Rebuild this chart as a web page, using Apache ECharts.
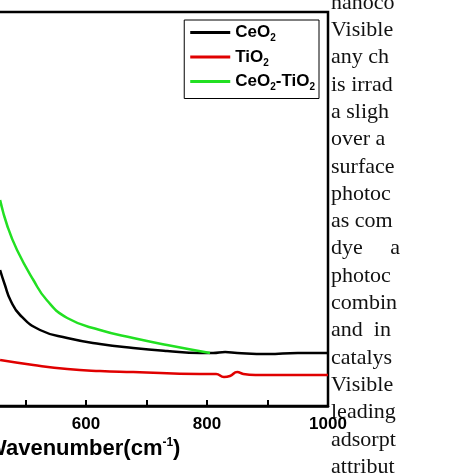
<!DOCTYPE html>
<html><head><meta charset="utf-8">
<script src="https://cdn.jsdelivr.net/npm/echarts@6/dist/echarts.min.js"></script>
<style>html,body{margin:0;padding:0;background:#fff}#c{width:474px;height:474px}</style>
</head><body><div id="c"></div>
<script>
const ceo2 = [[458,136],[466,121],[475,106],[491,91],[524,76],[569,68],[623,62],[678,58],[734,55],[788,53],[810,53],[830,54],[850,53],[900,52],[950,53],[1000,53]];
const tio2 = [[458,46],[513,41],[569,37],[623,35],[678,34],[788,32],[815,32],[828,29],[838,30],[850,34],[860,32],[880,31],[920,31],[1000,31]];
const ceo2tio2 = [[458,206],[470,180],[486,156],[513,126],[535,106],[569,88],[623,76],[678,68],[734,61],[805,53]];
const xTicks = [400,600,800,1000];
const sideText = ["nanoco","Visible","any ch","is irrad","a sligh","over a","surface","photoc","as com","dye     a","photoc","combin","and  in","catalys","Visible","leading","adsorpt","attribut"];
const chart = echarts.init(document.getElementById('c'));
const rich = {a:{fontFamily:'Liberation Sans',fontWeight:'bold',fontSize:17,color:'#000'},s:{fontFamily:'Liberation Sans',fontWeight:'bold',fontSize:10,color:'#000',padding:[12,0,0,0]}};
const names = {'CeO2':'{a|CeO}{s|2}','TiO2':'{a|TiO}{s|2}','CeO2-TiO2':'{a|CeO}{s|2}{a|-TiO}{s|2}'};
chart.setOption({
  animation:false,
  grid:{left:-35,right:146,top:12,bottom:68,show:true,borderColor:'#000',borderWidth:2.5,outerBoundsMode:'none',containLabel:false},
  legend:{right:155,top:20,orient:'vertical',itemWidth:40,itemHeight:3,itemGap:5,icon:'rect',
    borderColor:'#000',borderWidth:1,padding:[4,4,6,6],
    formatter:n=>names[n],textStyle:{rich:rich},data:['CeO2','TiO2','CeO2-TiO2']},
  xAxis:{type:'value',min:400,max:1000,interval:100,
    axisLine:{lineStyle:{color:'#000',width:2.5}},
    axisTick:{inside:true,length:6,lineStyle:{color:'#000',width:2}},
    axisLabel:{formatter:v=>xTicks.includes(v)?String(v):'',color:'#000',fontFamily:'Liberation Sans',fontWeight:'bold',fontSize:17,margin:10},
    splitLine:{show:false}},
  yAxis:{type:'value',min:0,max:394,show:false},
  series:[
    {name:'CeO2',type:'line',smooth:true,showSymbol:false,data:ceo2,lineStyle:{color:'#000',width:2.5},itemStyle:{color:'#000'},z:3},
    {name:'TiO2',type:'line',smooth:true,showSymbol:false,data:tio2,lineStyle:{color:'#e00000',width:2.5},itemStyle:{color:'#e00000'}},
    {name:'CeO2-TiO2',type:'line',smooth:true,showSymbol:false,data:ceo2tio2,lineStyle:{color:'#22e022',width:2.5},itemStyle:{color:'#22e022'},z:4}
  ],
  graphic:[
    {type:'text',left:-14,top:437,style:{text:'{t|Wavenumber(cm}{u|-1}{t|)}',rich:{t:{fontFamily:'Liberation Sans',fontWeight:'bold',fontSize:22,fill:'#000'},u:{fontFamily:'Liberation Sans',fontWeight:'bold',fontSize:12,fill:'#000',padding:[0,0,12,0]}}}}
  ].concat(sideText.map((t,i)=>({type:'text',left:331,top:-8+i*27.3,style:{text:t,fontFamily:'Liberation Serif',fontSize:22,fill:'#111'}})))
});
</script></body></html>
